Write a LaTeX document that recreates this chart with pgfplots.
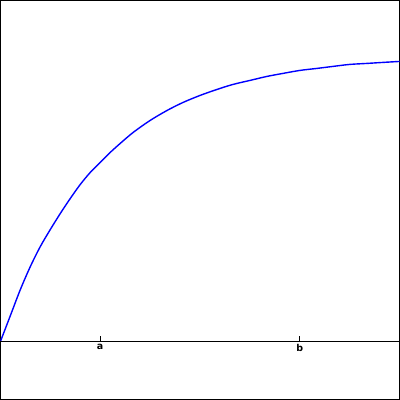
\documentclass[border=0pt]{standalone}
\usepackage{pgfplots}
\pgfplotsset{compat=1.18}
\usepackage{fontspec}
\setmainfont{DejaVu Sans}
\begin{document}
\begin{tikzpicture}
\begin{axis}[
  scale only axis, width=399.6pt, height=399.6pt,
  xmin=0, xmax=4, ymin=-58, ymax=341,
  xtick=\empty, ytick=\empty,
  axis line style={black, line width=0.8pt},
]
\addplot[blue, line width=1.4pt, smooth, tension=0.5] coordinates {
(0,0) (0.10,26) (0.20,52) (0.30,75) (0.40,95) (0.50,112) (0.60,128)
(0.70,143) (0.80,157) (0.90,169) (1.00,179) (1.10,189) (1.20,198)
(1.33,209) (1.50,221) (1.67,231) (1.83,239) (2.00,246) (2.17,252)
(2.33,257) (2.50,261) (2.67,265) (2.83,268) (3.00,271) (3.17,273)
(3.33,275) (3.50,277) (3.67,278) (3.83,279) (4.00,280)
};
\end{axis}
\begin{axis}[
  scale only axis, width=399.6pt, height=399.6pt,
  xmin=0, xmax=4, ymin=-58, ymax=341,
  axis x line=middle, axis y line=none,
  x axis line style={black, line width=0.8pt, -},
  xtick={1,3}, xticklabels={a,b},
  xtick style={black, line width=0.8pt},
  tick align=inside, major tick length=6pt,
  xticklabel style={font=\bfseries\fontsize{9.5}{10}\selectfont, yshift=1pt},
]
\addplot[draw=none] coordinates {(0,0) (4,0)};
\end{axis}
\end{tikzpicture}
\end{document}
